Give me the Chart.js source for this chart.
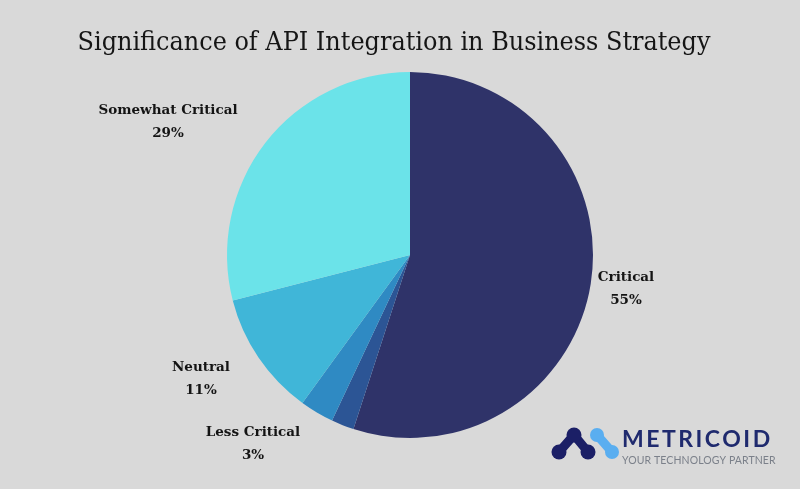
<!DOCTYPE html>
<html>
<head>
<meta charset="utf-8">
<script src="https://cdn.jsdelivr.net/npm/chart.js@4"></script>
<style>
  html,body{margin:0;padding:0;background:#d9d9d9;}
  #wrap{width:800px;height:489px;position:relative;}
</style>
</head>
<body>
<div id="wrap"><canvas id="pie" width="800" height="489"></canvas></div>
<script>
// data (clockwise from 12 o'clock)
const labels = ['Critical', '', 'Less Critical', 'Neutral', 'Somewhat Critical'];
const shares = [55, 2, 3, 11, 29];
const colors = ['#2f3369', '#2c5595', '#2f8ac3', '#40b6d8', '#6be3e9'];

// label offset from the pie centre (px), one per slice; null = no label
const labelOffsets = [{dx:216, dy:34}, null, {dx:-157, dy:189}, {dx:-209, dy:124}, {dx:-242, dy:-133}];

const serif = '"DejaVu Serif", serif';

const sliceLabels = {
  id: 'sliceLabels',
  afterDatasetsDraw(chart){
    const ctx = chart.ctx;
    const arcs = chart.getDatasetMeta(0).data;
    ctx.save();
    ctx.fillStyle = '#141414';
    ctx.textAlign = 'center';
    ctx.textBaseline = 'middle';
    ctx.font = 'bold 13.5px ' + serif;
    arcs.forEach((arc, i)=>{
      const o = labelOffsets[i];
      if (!o) return;
      const x = arc.x + o.dx, y = arc.y + o.dy;
      ctx.fillText(labels[i], x, y - 11.5);
      ctx.fillText(shares[i] + '%', x, y + 11.5);
    });
    ctx.restore();
  }
};

const decor = {
  id: 'decor',
  beforeDraw(chart){
    const ctx = chart.ctx;
    ctx.save();
    ctx.fillStyle = '#d9d9d9';
    ctx.fillRect(0, 0, chart.width, chart.height);
    ctx.restore();
  },
  afterDraw(chart){
    const ctx = chart.ctx;
    ctx.save();
    // title, sized to span the same width as in the picture
    const title = 'Significance of API Integration in Business Strategy';
    ctx.fillStyle = '#151515';
    ctx.textAlign = 'center';
    ctx.textBaseline = 'alphabetic';
    ctx.font = '100px "DejaVu Serif Condensed", "DejaVu Serif", serif';
    const size = 100 * 633 / ctx.measureText(title).width;
    ctx.font = size.toFixed(2) + 'px "DejaVu Serif Condensed", "DejaVu Serif", serif';
    ctx.fillText(title, 394, 50);

    // logo mark
    ctx.lineCap = 'round';
    ctx.lineWidth = 9;
    ctx.strokeStyle = '#1b1f66';
    ctx.fillStyle = '#1b1f66';
    ctx.beginPath();
    ctx.moveTo(559, 452); ctx.lineTo(574, 435); ctx.lineTo(588, 452);
    ctx.stroke();
    [[559,452],[574,435],[588,452]].forEach(([x,y])=>{
      ctx.beginPath(); ctx.arc(x, y, 7.5, 0, Math.PI*2); ctx.fill();
    });
    ctx.strokeStyle = '#5aaef0';
    ctx.fillStyle = '#5aaef0';
    ctx.beginPath();
    ctx.moveTo(597, 435); ctx.lineTo(612, 452);
    ctx.stroke();
    [[597,435],[612,452]].forEach(([x,y])=>{
      ctx.beginPath(); ctx.arc(x, y, 7, 0, Math.PI*2); ctx.fill();
    });

    // logo text
    ctx.textAlign = 'left';
    ctx.textBaseline = 'middle';
    ctx.fillStyle = '#1f2a6e';
    ctx.font = '700 23px Lato, sans-serif';
    ctx.letterSpacing = '2.5px';
    ctx.fillText('METRICOID', 622, 440);
    ctx.fillStyle = '#7b808a';
    ctx.font = '10.5px Lato, sans-serif';
    ctx.letterSpacing = '0.1px';
    ctx.fillText('YOUR TECHNOLOGY PARTNER', 622, 461);
    ctx.restore();
  }
};

new Chart(document.getElementById('pie').getContext('2d'), {
  type: 'pie',
  data: {
    labels,
    datasets: [{ data: shares, backgroundColor: colors, borderWidth: 0 }]
  },
  options: {
    responsive: false,
    animation: false,
    layout: { padding: { top: 72, bottom: 51, left: 227, right: 207 } },
    plugins: { legend: { display: false }, tooltip: { enabled: false } }
  },
  plugins: [decor, sliceLabels]
});
</script>
</body>
</html>
